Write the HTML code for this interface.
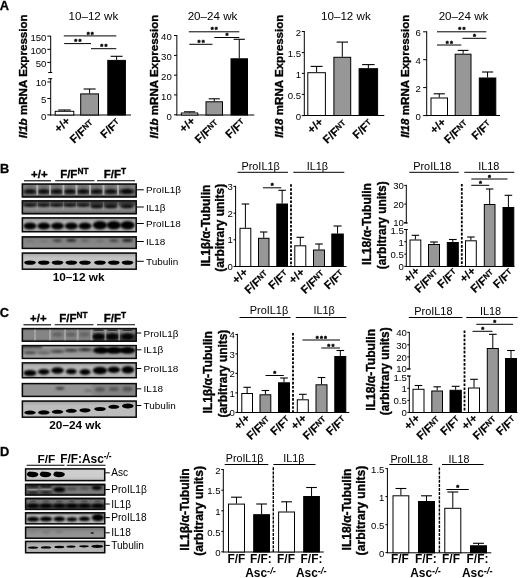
<!DOCTYPE html>
<html><head><meta charset="utf-8"><title>Figure</title>
<style>html,body{margin:0;padding:0;background:#fff}svg{display:block}text{font-family:"Liberation Sans", sans-serif;fill:#000}</style>
</head><body>
<svg width="520" height="578" viewBox="0 0 520 578">
<rect width="520" height="578" fill="#fff"/>
<text x="-0.2" y="9.9" font-size="12.8" font-weight="bold" text-anchor="start" stroke="#000" stroke-width="0.3">A</text>
<text x="93.4" y="20.2" font-size="11.6" font-weight="normal" text-anchor="middle">10–12 wk</text>
<text x="27.0" y="76.3" font-size="11.6" font-weight="bold" text-anchor="middle" transform="rotate(-90 27.0 76.3)" stroke="#000" stroke-width="0.35"><tspan font-style="italic">Il1b</tspan> mRNA Expression</text>
<line x1="50.7" y1="35.8" x2="50.7" y2="72.5" stroke="#000" stroke-width="1"/>
<line x1="50.7" y1="78.7" x2="50.7" y2="115.5" stroke="#000" stroke-width="1"/>
<line x1="48.2" y1="72.5" x2="52.2" y2="72.5" stroke="#000" stroke-width="1"/>
<line x1="48.2" y1="78.7" x2="52.2" y2="78.7" stroke="#000" stroke-width="1"/>
<line x1="47.300000000000004" y1="36.1" x2="50.7" y2="36.1" stroke="#000" stroke-width="1"/>
<text x="46.4" y="40.84" font-size="9.6" font-weight="normal" text-anchor="end">150</text>
<line x1="47.300000000000004" y1="49.3" x2="50.7" y2="49.3" stroke="#000" stroke-width="1"/>
<text x="46.4" y="54.04" font-size="9.6" font-weight="normal" text-anchor="end">100</text>
<line x1="47.300000000000004" y1="62.4" x2="50.7" y2="62.4" stroke="#000" stroke-width="1"/>
<text x="46.4" y="67.14" font-size="9.6" font-weight="normal" text-anchor="end">50</text>
<line x1="47.300000000000004" y1="82" x2="50.7" y2="82" stroke="#000" stroke-width="1"/>
<text x="46.4" y="86.04" font-size="9.6" font-weight="normal" text-anchor="end">10</text>
<line x1="47.300000000000004" y1="98.5" x2="50.7" y2="98.5" stroke="#000" stroke-width="1"/>
<text x="46.4" y="102.94" font-size="9.6" font-weight="normal" text-anchor="end">5</text>
<line x1="47.300000000000004" y1="114.9" x2="50.7" y2="114.9" stroke="#000" stroke-width="1"/>
<text x="46.4" y="119.64" font-size="9.6" font-weight="normal" text-anchor="end">0</text>
<line x1="50.2" y1="115" x2="131" y2="115" stroke="#000" stroke-width="1"/>
<rect x="55.2" y="111.3" width="18.599999999999994" height="3.700000000000003" fill="#fff" stroke="#000" stroke-width="1"/>
<line x1="64.5" y1="110.8" x2="64.5" y2="110.0" stroke="#000" stroke-width="1"/>
<line x1="58.228" y1="110.0" x2="70.77199999999999" y2="110.0" stroke="#000" stroke-width="1.1"/>
<rect x="80.7" y="93.9" width="17.799999999999997" height="21.099999999999994" fill="#979797" stroke="#000" stroke-width="1"/>
<line x1="89.6" y1="93.4" x2="89.6" y2="89" stroke="#000" stroke-width="1"/>
<line x1="83.58399999999999" y1="89" x2="95.616" y2="89" stroke="#000" stroke-width="1.1"/>
<rect x="107.8" y="60.4" width="17.60000000000001" height="54.6" fill="#000" stroke="#000" stroke-width="1"/>
<line x1="116.6" y1="59.9" x2="116.6" y2="56.3" stroke="#000" stroke-width="1"/>
<line x1="110.648" y1="56.3" x2="122.55199999999999" y2="56.3" stroke="#000" stroke-width="1.1"/>
<line x1="63.8" y1="35.9" x2="116.3" y2="35.9" stroke="#000" stroke-width="1"/>
<text x="90.85" y="36.5" font-size="7.6" font-weight="bold" text-anchor="middle" letter-spacing="1.2" stroke="#000" stroke-width="0.45">**</text>
<line x1="64.2" y1="43.6" x2="91" y2="43.6" stroke="#000" stroke-width="1"/>
<text x="78.39999999999999" y="44.2" font-size="7.6" font-weight="bold" text-anchor="middle" letter-spacing="1.2" stroke="#000" stroke-width="0.45">**</text>
<line x1="91" y1="48.7" x2="116.3" y2="48.7" stroke="#000" stroke-width="1"/>
<text x="104.45" y="49.300000000000004" font-size="7.6" font-weight="bold" text-anchor="middle" letter-spacing="1.2" stroke="#000" stroke-width="0.45">**</text>
<text x="71.0" y="121.9" font-size="11.5" font-weight="bold" text-anchor="end" transform="rotate(-43 71.0 121.9)" stroke="#000" stroke-width="0.2">+/+</text>
<text x="94.8" y="124.9" font-size="11.5" font-weight="bold" text-anchor="end" transform="rotate(-43 94.8 124.9)" stroke="#000" stroke-width="0.2">F/F<tspan dy="-2.5" font-size="8">NT</tspan></text>
<text x="121.0" y="123.8" font-size="11.5" font-weight="bold" text-anchor="end" transform="rotate(-43 121.0 123.8)" stroke="#000" stroke-width="0.2">F/F<tspan dy="-2.5" font-size="8">T</tspan></text>
<text x="212.5" y="20.0" font-size="11.6" font-weight="normal" text-anchor="middle">20–24 wk</text>
<text x="158.3" y="76.5" font-size="11.6" font-weight="bold" text-anchor="middle" transform="rotate(-90 158.3 76.5)" stroke="#000" stroke-width="0.35"><tspan font-style="italic">Il1b</tspan> mRNA Expression</text>
<line x1="176.85" y1="35.0" x2="176.85" y2="115.5" stroke="#000" stroke-width="1"/>
<line x1="173.95" y1="35.5" x2="176.85" y2="35.5" stroke="#000" stroke-width="1"/>
<text x="171.75" y="40.44" font-size="9.6" font-weight="normal" text-anchor="end">40</text>
<line x1="173.95" y1="55.4" x2="176.85" y2="55.4" stroke="#000" stroke-width="1"/>
<text x="171.75" y="60.34" font-size="9.6" font-weight="normal" text-anchor="end">30</text>
<line x1="173.95" y1="75.2" x2="176.85" y2="75.2" stroke="#000" stroke-width="1"/>
<text x="171.75" y="80.14" font-size="9.6" font-weight="normal" text-anchor="end">20</text>
<line x1="173.95" y1="94.9" x2="176.85" y2="94.9" stroke="#000" stroke-width="1"/>
<text x="171.75" y="99.84" font-size="9.6" font-weight="normal" text-anchor="end">10</text>
<line x1="173.95" y1="114.8" x2="176.85" y2="114.8" stroke="#000" stroke-width="1"/>
<text x="171.75" y="119.74" font-size="9.6" font-weight="normal" text-anchor="end">0</text>
<line x1="176.5" y1="115" x2="254.3" y2="115" stroke="#000" stroke-width="1"/>
<rect x="181.3" y="113.0" width="16.5" height="2.0" fill="#fff" stroke="#000" stroke-width="1"/>
<line x1="189.55" y1="112.5" x2="189.55" y2="111.8" stroke="#000" stroke-width="1"/>
<line x1="183.95000000000002" y1="111.8" x2="195.15" y2="111.8" stroke="#000" stroke-width="1.1"/>
<rect x="206.0" y="101.8" width="16.5" height="13.200000000000003" fill="#979797" stroke="#000" stroke-width="1"/>
<line x1="214.25" y1="101.3" x2="214.25" y2="98.8" stroke="#000" stroke-width="1"/>
<line x1="208.65" y1="98.8" x2="219.85" y2="98.8" stroke="#000" stroke-width="1.1"/>
<rect x="231.0" y="58.8" width="16.5" height="56.2" fill="#000" stroke="#000" stroke-width="1"/>
<line x1="239.25" y1="58.3" x2="239.25" y2="39.3" stroke="#000" stroke-width="1"/>
<line x1="233.65" y1="39.3" x2="244.85" y2="39.3" stroke="#000" stroke-width="1.1"/>
<line x1="188.8" y1="31.8" x2="239.3" y2="31.8" stroke="#000" stroke-width="1"/>
<text x="214.85000000000002" y="32.4" font-size="7.6" font-weight="bold" text-anchor="middle" letter-spacing="1.2" stroke="#000" stroke-width="0.45">**</text>
<line x1="189.3" y1="44.3" x2="212.5" y2="44.3" stroke="#000" stroke-width="1"/>
<text x="201.70000000000002" y="44.9" font-size="7.6" font-weight="bold" text-anchor="middle" letter-spacing="1.2" stroke="#000" stroke-width="0.45">**</text>
<line x1="214.3" y1="37.5" x2="239.3" y2="37.5" stroke="#000" stroke-width="1"/>
<text x="227.60000000000002" y="38.1" font-size="7.6" font-weight="bold" text-anchor="middle" letter-spacing="1.2" stroke="#000" stroke-width="0.45">*</text>
<text x="196.0" y="121.9" font-size="11.5" font-weight="bold" text-anchor="end" transform="rotate(-43 196.0 121.9)" stroke="#000" stroke-width="0.2">+/+</text>
<text x="219.8" y="124.9" font-size="11.5" font-weight="bold" text-anchor="end" transform="rotate(-43 219.8 124.9)" stroke="#000" stroke-width="0.2">F/F<tspan dy="-2.5" font-size="8">NT</tspan></text>
<text x="246.0" y="123.8" font-size="11.5" font-weight="bold" text-anchor="end" transform="rotate(-43 246.0 123.8)" stroke="#000" stroke-width="0.2">F/F<tspan dy="-2.5" font-size="8">T</tspan></text>
<text x="345.9" y="19.8" font-size="11.6" font-weight="normal" text-anchor="middle">10–12 wk</text>
<text x="283.3" y="76.2" font-size="11.6" font-weight="bold" text-anchor="middle" transform="rotate(-90 283.3 76.2)" stroke="#000" stroke-width="0.35"><tspan font-style="italic">Il18</tspan> mRNA Expression</text>
<line x1="304.3" y1="31.0" x2="304.3" y2="116.1" stroke="#000" stroke-width="1"/>
<line x1="301.8" y1="31.5" x2="304.3" y2="31.5" stroke="#000" stroke-width="1"/>
<text x="301.0" y="35.74" font-size="9.6" font-weight="normal" text-anchor="end">2</text>
<line x1="301.8" y1="52.6" x2="304.3" y2="52.6" stroke="#000" stroke-width="1"/>
<text x="301.0" y="56.84" font-size="9.6" font-weight="normal" text-anchor="end">1.5</text>
<line x1="301.8" y1="73.4" x2="304.3" y2="73.4" stroke="#000" stroke-width="1"/>
<text x="301.0" y="77.64" font-size="9.6" font-weight="normal" text-anchor="end">1</text>
<line x1="301.8" y1="94.4" x2="304.3" y2="94.4" stroke="#000" stroke-width="1"/>
<text x="301.0" y="98.64" font-size="9.6" font-weight="normal" text-anchor="end">0.5</text>
<line x1="301.8" y1="115.6" x2="304.3" y2="115.6" stroke="#000" stroke-width="1"/>
<text x="301.0" y="119.84" font-size="9.6" font-weight="normal" text-anchor="end">0</text>
<line x1="304.0" y1="115.5" x2="384.3" y2="115.5" stroke="#000" stroke-width="1"/>
<rect x="307.8" y="72.7" width="17.599999999999966" height="42.8" fill="#fff" stroke="#000" stroke-width="1"/>
<line x1="316.6" y1="72.2" x2="316.6" y2="66.4" stroke="#000" stroke-width="1"/>
<line x1="310.648" y1="66.4" x2="322.552" y2="66.4" stroke="#000" stroke-width="1.1"/>
<rect x="333.9" y="57.3" width="16.80000000000001" height="58.2" fill="#979797" stroke="#000" stroke-width="1"/>
<line x1="342.29999999999995" y1="56.8" x2="342.29999999999995" y2="42.1" stroke="#000" stroke-width="1"/>
<line x1="336.6039999999999" y1="42.1" x2="347.996" y2="42.1" stroke="#000" stroke-width="1.1"/>
<rect x="359.1" y="68.7" width="18.5" height="46.8" fill="#000" stroke="#000" stroke-width="1"/>
<line x1="368.35" y1="68.2" x2="368.35" y2="64.6" stroke="#000" stroke-width="1"/>
<line x1="362.11" y1="64.6" x2="374.59000000000003" y2="64.6" stroke="#000" stroke-width="1.1"/>
<text x="324.0" y="122.8" font-size="11.5" font-weight="bold" text-anchor="end" transform="rotate(-43 324.0 122.8)" stroke="#000" stroke-width="0.2">+/+</text>
<text x="347.8" y="125.3" font-size="11.5" font-weight="bold" text-anchor="end" transform="rotate(-43 347.8 125.3)" stroke="#000" stroke-width="0.2">F/F<tspan dy="-2.5" font-size="8">NT</tspan></text>
<text x="373.2" y="124.5" font-size="11.5" font-weight="bold" text-anchor="end" transform="rotate(-43 373.2 124.5)" stroke="#000" stroke-width="0.2">F/F<tspan dy="-2.5" font-size="8">T</tspan></text>
<text x="463.5" y="19.8" font-size="11.6" font-weight="normal" text-anchor="middle">20–24 wk</text>
<text x="409.5" y="76.2" font-size="11.6" font-weight="bold" text-anchor="middle" transform="rotate(-90 409.5 76.2)" stroke="#000" stroke-width="0.35"><tspan font-style="italic">Il18</tspan> mRNA Expression</text>
<line x1="426.7" y1="31.3" x2="426.7" y2="116.1" stroke="#000" stroke-width="1"/>
<line x1="423.09999999999997" y1="31.8" x2="426.7" y2="31.8" stroke="#000" stroke-width="1"/>
<text x="420.9" y="36.14" font-size="9.6" font-weight="normal" text-anchor="end">6</text>
<line x1="423.09999999999997" y1="59.7" x2="426.7" y2="59.7" stroke="#000" stroke-width="1"/>
<text x="420.9" y="64.04" font-size="9.6" font-weight="normal" text-anchor="end">4</text>
<line x1="423.09999999999997" y1="87.6" x2="426.7" y2="87.6" stroke="#000" stroke-width="1"/>
<text x="420.9" y="91.94" font-size="9.6" font-weight="normal" text-anchor="end">2</text>
<line x1="423.09999999999997" y1="115.6" x2="426.7" y2="115.6" stroke="#000" stroke-width="1"/>
<text x="420.9" y="119.94" font-size="9.6" font-weight="normal" text-anchor="end">0</text>
<line x1="426.3" y1="115.5" x2="500" y2="115.5" stroke="#000" stroke-width="1"/>
<rect x="431.0" y="98.0" width="16.5" height="17.5" fill="#fff" stroke="#000" stroke-width="1"/>
<line x1="439.25" y1="97.5" x2="439.25" y2="93.8" stroke="#000" stroke-width="1"/>
<line x1="433.65" y1="93.8" x2="444.85" y2="93.8" stroke="#000" stroke-width="1.1"/>
<rect x="455.2" y="54.2" width="15.800000000000011" height="61.3" fill="#979797" stroke="#000" stroke-width="1"/>
<line x1="463.1" y1="53.7" x2="463.1" y2="50.4" stroke="#000" stroke-width="1"/>
<line x1="457.72400000000005" y1="50.4" x2="468.476" y2="50.4" stroke="#000" stroke-width="1.1"/>
<rect x="479.3" y="78.0" width="16.5" height="37.5" fill="#000" stroke="#000" stroke-width="1"/>
<line x1="487.55" y1="77.5" x2="487.55" y2="72" stroke="#000" stroke-width="1"/>
<line x1="481.95" y1="72" x2="493.15000000000003" y2="72" stroke="#000" stroke-width="1.1"/>
<line x1="437" y1="31.8" x2="486.3" y2="31.8" stroke="#000" stroke-width="1"/>
<text x="462.45" y="32.4" font-size="7.6" font-weight="bold" text-anchor="middle" letter-spacing="1.2" stroke="#000" stroke-width="0.45">**</text>
<line x1="437" y1="45" x2="461.3" y2="45" stroke="#000" stroke-width="1"/>
<text x="449.95" y="45.6" font-size="7.6" font-weight="bold" text-anchor="middle" letter-spacing="1.2" stroke="#000" stroke-width="0.45">**</text>
<line x1="462.5" y1="38.3" x2="486.3" y2="38.3" stroke="#000" stroke-width="1"/>
<text x="475.2" y="38.9" font-size="7.6" font-weight="bold" text-anchor="middle" letter-spacing="1.2" stroke="#000" stroke-width="0.45">*</text>
<text x="446.7" y="123.1" font-size="11.5" font-weight="bold" text-anchor="end" transform="rotate(-43 446.7 123.1)" stroke="#000" stroke-width="0.2">+/+</text>
<text x="469.0" y="125.3" font-size="11.5" font-weight="bold" text-anchor="end" transform="rotate(-43 469.0 125.3)" stroke="#000" stroke-width="0.2">F/F<tspan dy="-2.5" font-size="8">NT</tspan></text>
<text x="492.1" y="125.3" font-size="11.5" font-weight="bold" text-anchor="end" transform="rotate(-43 492.1 125.3)" stroke="#000" stroke-width="0.2">F/F<tspan dy="-2.5" font-size="8">T</tspan></text>
<defs><filter id="b1" x="-50%" y="-100%" width="200%" height="300%"><feGaussianBlur stdDeviation="1.1"/></filter><filter id="b2" x="-50%" y="-100%" width="200%" height="300%"><feGaussianBlur stdDeviation="0.7"/></filter><filter id="b3" x="-50%" y="-100%" width="200%" height="300%"><feGaussianBlur stdDeviation="1.8"/></filter></defs>
<text x="-0.1" y="173.3" font-size="12.8" font-weight="bold" text-anchor="start" stroke="#000" stroke-width="0.3">B</text>
<text x="39.3" y="178.2" font-size="11.5" font-weight="bold" text-anchor="middle" stroke="#000" stroke-width="0.3">+/+</text>
<text x="74.3" y="178.2" font-size="11.5" font-weight="bold" text-anchor="middle" stroke="#000" stroke-width="0.3">F/F<tspan dy="-3.9" font-size="8.3">NT</tspan></text>
<text x="115" y="178.2" font-size="11.5" font-weight="bold" text-anchor="middle" stroke="#000" stroke-width="0.3">F/F<tspan dy="-3.9" font-size="8.3">T</tspan></text>
<line x1="24.0" y1="180.8" x2="51" y2="180.8" stroke="#000" stroke-width="1.1" stroke="#333"/>
<line x1="55.2" y1="180.8" x2="94.4" y2="180.8" stroke="#000" stroke-width="1.1"/>
<line x1="97" y1="180.8" x2="135" y2="180.8" stroke="#000" stroke-width="1.1"/>
<clipPath id="c1"><rect x="21.8" y="183.5" width="115.00000000000001" height="14.0"/></clipPath>
<rect x="21.8" y="183.5" width="115.00000000000001" height="14.0" fill="#808080"/>
<g clip-path="url(#c1)">
<rect x="21.8" y="189.5" width="115.00000000000001" height="5.0" fill="#181818" opacity="0.42" filter="url(#b1)"/>
<rect x="21.8" y="195.5" width="115.00000000000001" height="2.0" fill="#222" opacity="0.5" filter="url(#b2)"/>
<ellipse cx="30" cy="191.4" rx="5.8" ry="2.1" fill="#050505" opacity="0.88" filter="url(#b1)"/>
<ellipse cx="43.7" cy="191.4" rx="5.8" ry="2.1" fill="#050505" opacity="0.88" filter="url(#b1)"/>
<ellipse cx="56.7" cy="191.4" rx="5.8" ry="2.1" fill="#050505" opacity="0.88" filter="url(#b1)"/>
<ellipse cx="70" cy="191.4" rx="5.8" ry="2.1" fill="#050505" opacity="0.88" filter="url(#b1)"/>
<ellipse cx="83.2" cy="191.4" rx="5.8" ry="2.1" fill="#050505" opacity="0.88" filter="url(#b1)"/>
<ellipse cx="96.8" cy="191.4" rx="5.8" ry="2.1" fill="#050505" opacity="0.88" filter="url(#b1)"/>
<ellipse cx="110.8" cy="191.4" rx="5.8" ry="2.1" fill="#050505" opacity="0.88" filter="url(#b1)"/>
<ellipse cx="127" cy="191.4" rx="5.8" ry="2.1" fill="#050505" opacity="0.88" filter="url(#b1)"/>
<ellipse cx="127" cy="191" rx="7.5" ry="1.8" fill="#050505" opacity="0.5" filter="url(#b1)"/>
<ellipse cx="30" cy="186.5" rx="4.5" ry="1.2" fill="#333" opacity="0.3" filter="url(#b1)"/>
<ellipse cx="43.7" cy="186.5" rx="4.5" ry="1.2" fill="#333" opacity="0.3" filter="url(#b1)"/>
<ellipse cx="56.7" cy="186.5" rx="4.5" ry="1.2" fill="#333" opacity="0.3" filter="url(#b1)"/>
<ellipse cx="70" cy="186.5" rx="4.5" ry="1.2" fill="#333" opacity="0.3" filter="url(#b1)"/>
<ellipse cx="83.2" cy="186.5" rx="4.5" ry="1.2" fill="#333" opacity="0.3" filter="url(#b1)"/>
<ellipse cx="96.8" cy="186.5" rx="4.5" ry="1.2" fill="#333" opacity="0.3" filter="url(#b1)"/>
<ellipse cx="110.8" cy="186.5" rx="4.5" ry="1.2" fill="#333" opacity="0.3" filter="url(#b1)"/>
<ellipse cx="127" cy="186.5" rx="4.5" ry="1.2" fill="#333" opacity="0.3" filter="url(#b1)"/>
<rect x="36.349999999999994" y="183.5" width="1.9" height="11.479999999999999" fill="#d8d8d8" opacity="0.6" filter="url(#b2)"/>
<rect x="49.05" y="183.5" width="1.9" height="11.479999999999999" fill="#d8d8d8" opacity="0.6" filter="url(#b2)"/>
<rect x="62.449999999999996" y="183.5" width="1.9" height="11.479999999999999" fill="#d8d8d8" opacity="0.6" filter="url(#b2)"/>
<rect x="75.55" y="183.5" width="1.9" height="11.479999999999999" fill="#d8d8d8" opacity="0.6" filter="url(#b2)"/>
<rect x="89.05" y="183.5" width="1.9" height="11.479999999999999" fill="#d8d8d8" opacity="0.6" filter="url(#b2)"/>
<rect x="102.55" y="183.5" width="1.9" height="11.479999999999999" fill="#d8d8d8" opacity="0.6" filter="url(#b2)"/>
<rect x="117.05" y="183.5" width="1.9" height="11.479999999999999" fill="#d8d8d8" opacity="0.6" filter="url(#b2)"/>
</g>
<rect x="22.400000000000002" y="184.1" width="113.80000000000001" height="12.8" fill="none" stroke="#0a0a0a" stroke-width="1.5"/>
<clipPath id="c2"><rect x="21.8" y="200.3" width="115.00000000000001" height="14.0"/></clipPath>
<rect x="21.8" y="200.3" width="115.00000000000001" height="14.0" fill="#8c8c8c"/>
<g clip-path="url(#c2)">
<rect x="21.8" y="200.3" width="115.00000000000001" height="5.199999999999989" fill="#2a2a2a" opacity="0.7" filter="url(#b1)"/>
<rect x="21.8" y="211.8" width="115.00000000000001" height="2.5" fill="#333" opacity="0.55" filter="url(#b1)"/>
<ellipse cx="30" cy="205.3" rx="6.8" ry="1.5" fill="#050505" opacity="0.92" filter="url(#b1)"/>
<ellipse cx="43.7" cy="205.3" rx="6.8" ry="1.5" fill="#050505" opacity="0.92" filter="url(#b1)"/>
<ellipse cx="56.7" cy="205.3" rx="6.8" ry="1.5" fill="#050505" opacity="0.92" filter="url(#b1)"/>
<ellipse cx="70" cy="205.3" rx="6.8" ry="1.5" fill="#050505" opacity="0.92" filter="url(#b1)"/>
<ellipse cx="83.2" cy="205.3" rx="6.8" ry="1.5" fill="#050505" opacity="0.92" filter="url(#b1)"/>
<ellipse cx="96.8" cy="206.3" rx="6.8" ry="1.9" fill="#050505" opacity="0.92" filter="url(#b1)"/>
<ellipse cx="110.8" cy="206.3" rx="6.8" ry="1.9" fill="#050505" opacity="0.92" filter="url(#b1)"/>
<ellipse cx="127" cy="206.3" rx="6.8" ry="1.9" fill="#050505" opacity="0.92" filter="url(#b1)"/>
<ellipse cx="96.8" cy="203.6" rx="6.5" ry="1.2" fill="#111" opacity="0.55" filter="url(#b1)"/>
<ellipse cx="110.8" cy="203.6" rx="6.5" ry="1.2" fill="#111" opacity="0.55" filter="url(#b1)"/>
<ellipse cx="127" cy="203.6" rx="6.5" ry="1.2" fill="#111" opacity="0.55" filter="url(#b1)"/>
<rect x="36.65" y="200.3" width="1.3" height="9.799999999999999" fill="#bbb" opacity="0.3" filter="url(#b2)"/>
<rect x="49.35" y="200.3" width="1.3" height="9.799999999999999" fill="#bbb" opacity="0.3" filter="url(#b2)"/>
<rect x="62.75" y="200.3" width="1.3" height="9.799999999999999" fill="#bbb" opacity="0.3" filter="url(#b2)"/>
<rect x="75.85" y="200.3" width="1.3" height="9.799999999999999" fill="#bbb" opacity="0.3" filter="url(#b2)"/>
<rect x="89.35" y="200.3" width="1.3" height="9.799999999999999" fill="#bbb" opacity="0.3" filter="url(#b2)"/>
<rect x="102.85" y="200.3" width="1.3" height="9.799999999999999" fill="#bbb" opacity="0.3" filter="url(#b2)"/>
<rect x="117.35" y="200.3" width="1.3" height="9.799999999999999" fill="#bbb" opacity="0.3" filter="url(#b2)"/>
</g>
<rect x="22.400000000000002" y="200.9" width="113.80000000000001" height="12.8" fill="none" stroke="#0a0a0a" stroke-width="1.5"/>
<clipPath id="c3"><rect x="21.8" y="217.3" width="115.00000000000001" height="15.0"/></clipPath>
<rect x="21.8" y="217.3" width="115.00000000000001" height="15.0" fill="#b2b2b2"/>
<g clip-path="url(#c3)">
<rect x="21.8" y="217" width="115.00000000000001" height="3" fill="#777" opacity="0.5" filter="url(#b1)"/>
<ellipse cx="30" cy="226.0" rx="6.6" ry="3.5" fill="#000" opacity="1" filter="url(#b1)"/>
<ellipse cx="43.8" cy="226.0" rx="6.6" ry="3.5" fill="#000" opacity="1" filter="url(#b1)"/>
<ellipse cx="57.5" cy="226.0" rx="6.6" ry="3.5" fill="#000" opacity="1" filter="url(#b1)"/>
<ellipse cx="71.3" cy="226.0" rx="6.6" ry="3.5" fill="#000" opacity="1" filter="url(#b1)"/>
<ellipse cx="85" cy="226.0" rx="6.6" ry="3.5" fill="#000" opacity="1" filter="url(#b1)"/>
<ellipse cx="100" cy="225.3" rx="7.199999999999999" ry="4.2" fill="#000" opacity="1" filter="url(#b1)"/>
<ellipse cx="113.8" cy="225.3" rx="7.199999999999999" ry="4.2" fill="#000" opacity="1" filter="url(#b1)"/>
<ellipse cx="127.5" cy="225.3" rx="7.199999999999999" ry="4.2" fill="#000" opacity="1" filter="url(#b1)"/>
</g>
<rect x="22.400000000000002" y="217.9" width="113.80000000000001" height="13.8" fill="none" stroke="#0a0a0a" stroke-width="1.5"/>
<clipPath id="c4"><rect x="21.8" y="236.3" width="115.00000000000001" height="12.699999999999989"/></clipPath>
<rect x="21.8" y="236.3" width="115.00000000000001" height="12.699999999999989" fill="#858585"/>
<g clip-path="url(#c4)">
<rect x="21.8" y="236" width="115.00000000000001" height="2.3000000000000114" fill="#444" opacity="0.5" filter="url(#b2)"/>
<rect x="21.8" y="244" width="115.00000000000001" height="5" fill="#999" opacity="0.25" filter="url(#b3)"/>
<ellipse cx="57.5" cy="240.6" rx="4.5" ry="1.3" fill="#222" opacity="0.7" filter="url(#b1)"/>
<ellipse cx="71.3" cy="240.3" rx="5" ry="1.4" fill="#111" opacity="0.85" filter="url(#b1)"/>
<ellipse cx="85" cy="240.6" rx="4" ry="1.2" fill="#333" opacity="0.5" filter="url(#b1)"/>
<ellipse cx="100" cy="241" rx="4" ry="1.2" fill="#444" opacity="0.35" filter="url(#b1)"/>
<ellipse cx="113.8" cy="240.5" rx="4.5" ry="1.3" fill="#222" opacity="0.7" filter="url(#b1)"/>
<ellipse cx="127.5" cy="240.3" rx="5.2" ry="1.5" fill="#111" opacity="0.9" filter="url(#b1)"/>
<ellipse cx="30" cy="241" rx="4" ry="1.2" fill="#555" opacity="0.3" filter="url(#b1)"/>
<ellipse cx="43.8" cy="241" rx="4" ry="1.2" fill="#555" opacity="0.3" filter="url(#b1)"/>
</g>
<rect x="22.400000000000002" y="236.9" width="113.80000000000001" height="11.49999999999999" fill="none" stroke="#0a0a0a" stroke-width="1.5"/>
<clipPath id="c5"><rect x="21.8" y="252.5" width="115.00000000000001" height="17.30000000000001"/></clipPath>
<rect x="21.8" y="252.5" width="115.00000000000001" height="17.30000000000001" fill="#c2c2c2"/>
<g clip-path="url(#c5)">
<rect x="21.8" y="252" width="115.00000000000001" height="3.5" fill="#888" opacity="0.45" filter="url(#b1)"/>
<ellipse cx="30" cy="262.6" rx="5.9" ry="2.2" fill="#000" opacity="1" filter="url(#b2)"/>
<ellipse cx="43.8" cy="262.6" rx="5.9" ry="2.2" fill="#000" opacity="1" filter="url(#b2)"/>
<ellipse cx="57.5" cy="262.6" rx="5.9" ry="2.2" fill="#000" opacity="1" filter="url(#b2)"/>
<ellipse cx="71.3" cy="262.6" rx="5.9" ry="2.2" fill="#000" opacity="1" filter="url(#b2)"/>
<ellipse cx="85" cy="262.6" rx="5.9" ry="2.2" fill="#000" opacity="1" filter="url(#b2)"/>
<ellipse cx="100" cy="262.6" rx="5.9" ry="2.2" fill="#000" opacity="1" filter="url(#b2)"/>
<ellipse cx="113.8" cy="262.6" rx="5.9" ry="2.2" fill="#000" opacity="1" filter="url(#b2)"/>
<ellipse cx="127.5" cy="262.6" rx="5.9" ry="2.2" fill="#000" opacity="1" filter="url(#b2)"/>
</g>
<rect x="22.400000000000002" y="253.1" width="113.80000000000001" height="16.100000000000012" fill="none" stroke="#0a0a0a" stroke-width="1.5"/>
<line x1="136.8" y1="189.8" x2="143.8" y2="189.8" stroke="#000" stroke-width="1"/>
<text x="146" y="193.3" font-size="9.95" font-weight="normal" text-anchor="start">ProIL1β</text>
<line x1="136.8" y1="207" x2="143.8" y2="207" stroke="#000" stroke-width="1"/>
<text x="146" y="210.5" font-size="9.95" font-weight="normal" text-anchor="start">IL1β</text>
<line x1="136.8" y1="223.5" x2="143.8" y2="223.5" stroke="#000" stroke-width="1"/>
<text x="146" y="227.0" font-size="9.95" font-weight="normal" text-anchor="start">ProIL18</text>
<line x1="136.8" y1="241.5" x2="143.8" y2="241.5" stroke="#000" stroke-width="1"/>
<text x="146" y="245.0" font-size="9.95" font-weight="normal" text-anchor="start">IL18</text>
<line x1="136.8" y1="261.3" x2="143.8" y2="261.3" stroke="#000" stroke-width="1"/>
<text x="146" y="264.8" font-size="9.95" font-weight="normal" text-anchor="start">Tubulin</text>
<text x="78.6" y="281.4" font-size="11.8" font-weight="bold" text-anchor="middle">10–12 wk</text>
<text x="-0.3" y="317.0" font-size="12.8" font-weight="bold" text-anchor="start" stroke="#000" stroke-width="0.3">C</text>
<text x="38.4" y="321.8" font-size="11.5" font-weight="bold" text-anchor="middle" stroke="#000" stroke-width="0.3">+/+</text>
<text x="73.39999999999999" y="321.8" font-size="11.5" font-weight="bold" text-anchor="middle" stroke="#000" stroke-width="0.3">F/F<tspan dy="-3.9" font-size="8.3">NT</tspan></text>
<text x="115" y="321.8" font-size="11.5" font-weight="bold" text-anchor="middle" stroke="#000" stroke-width="0.3">F/F<tspan dy="-3.9" font-size="8.3">T</tspan></text>
<line x1="23.46" y1="324.8" x2="51" y2="324.8" stroke="#000" stroke-width="1.1" stroke="#333"/>
<line x1="54.660000000000004" y1="324.8" x2="93.5" y2="324.8" stroke="#000" stroke-width="1.1"/>
<line x1="97" y1="324.8" x2="135" y2="324.8" stroke="#000" stroke-width="1.1"/>
<clipPath id="c6"><rect x="21.8" y="328" width="115.00000000000001" height="13.800000000000011"/></clipPath>
<rect x="21.8" y="328" width="115.00000000000001" height="13.800000000000011" fill="#848484"/>
<g clip-path="url(#c6)">
<rect x="21.8" y="328" width="115.00000000000001" height="2.3000000000000114" fill="#444" opacity="0.45" filter="url(#b2)"/>
<rect x="93" y="333.5" width="43.80000000000001" height="8.5" fill="#111" opacity="0.6" filter="url(#b1)"/>
<rect x="21.8" y="339.5" width="70.2" height="2.5" fill="#555" opacity="0.4" filter="url(#b2)"/>
<ellipse cx="57.5" cy="334.5" rx="5.0" ry="2.2" fill="#333" opacity="0.4" filter="url(#b1)"/>
<ellipse cx="71" cy="334.5" rx="5.0" ry="2.2" fill="#333" opacity="0.4" filter="url(#b1)"/>
<ellipse cx="84.5" cy="334.5" rx="5.0" ry="2.2" fill="#333" opacity="0.4" filter="url(#b1)"/>
<ellipse cx="98.5" cy="336.6" rx="6.2" ry="3.0" fill="#020202" opacity="0.95" filter="url(#b1)"/>
<ellipse cx="112.3" cy="336.6" rx="6.2" ry="3.0" fill="#020202" opacity="0.95" filter="url(#b1)"/>
<ellipse cx="127.5" cy="336.6" rx="6.2" ry="3.0" fill="#020202" opacity="0.95" filter="url(#b1)"/>
<ellipse cx="98.5" cy="330.2" rx="5.0" ry="0.9" fill="#111" opacity="0.6" filter="url(#b2)"/>
<ellipse cx="112.3" cy="330.2" rx="5.0" ry="0.9" fill="#111" opacity="0.6" filter="url(#b2)"/>
<ellipse cx="127.5" cy="330.2" rx="5.0" ry="0.9" fill="#111" opacity="0.6" filter="url(#b2)"/>
<rect x="34.1" y="328" width="1.8" height="13.800000000000011" fill="#c4c4c4" opacity="0.55" filter="url(#b2)"/>
<rect x="49.1" y="328" width="1.8" height="13.800000000000011" fill="#c4c4c4" opacity="0.55" filter="url(#b2)"/>
<rect x="64.1" y="328" width="1.8" height="13.800000000000011" fill="#c4c4c4" opacity="0.55" filter="url(#b2)"/>
<rect x="76.8" y="328" width="1.8" height="13.800000000000011" fill="#c4c4c4" opacity="0.55" filter="url(#b2)"/>
<rect x="90.6" y="328" width="1.8" height="13.800000000000011" fill="#c4c4c4" opacity="0.55" filter="url(#b2)"/>
<rect x="104.5" y="328" width="1.8" height="13.800000000000011" fill="#c4c4c4" opacity="0.55" filter="url(#b2)"/>
<rect x="118.3" y="328" width="1.8" height="13.800000000000011" fill="#c4c4c4" opacity="0.55" filter="url(#b2)"/>
</g>
<rect x="22.400000000000002" y="328.6" width="113.80000000000001" height="12.600000000000012" fill="none" stroke="#0a0a0a" stroke-width="1.5"/>
<clipPath id="c7"><rect x="21.8" y="345" width="115.00000000000001" height="14"/></clipPath>
<rect x="21.8" y="345" width="115.00000000000001" height="14" fill="#a0a0a0"/>
<g clip-path="url(#c7)">
<rect x="21.8" y="345" width="20.2" height="3.3000000000000114" fill="#222" opacity="0.7" filter="url(#b1)"/>
<rect x="21.8" y="348" width="73.2" height="5" fill="#666" opacity="0.4" filter="url(#b3)"/>
<rect x="100" y="348.3" width="30" height="4.0" fill="#000" opacity="0.9" filter="url(#b1)"/>
<ellipse cx="30" cy="352.8" rx="6.5" ry="1.6" fill="#222" opacity="0.6" filter="url(#b1)"/>
<ellipse cx="43.8" cy="353" rx="6.5" ry="1.5" fill="#333" opacity="0.5" filter="url(#b1)"/>
<ellipse cx="57.5" cy="351.5" rx="6.5" ry="1.4" fill="#222" opacity="0.65" filter="url(#b1)"/>
<ellipse cx="71.3" cy="350.3" rx="6.5" ry="1.4" fill="#111" opacity="0.7" filter="url(#b1)"/>
<ellipse cx="85" cy="349.5" rx="6.5" ry="1.5" fill="#111" opacity="0.8" filter="url(#b1)"/>
<ellipse cx="100.5" cy="350.3" rx="7.4" ry="3.3" fill="#000" opacity="1" filter="url(#b1)"/>
<ellipse cx="114" cy="350.3" rx="7.4" ry="3.3" fill="#000" opacity="1" filter="url(#b1)"/>
<ellipse cx="128" cy="350.3" rx="7.4" ry="3.3" fill="#000" opacity="1" filter="url(#b1)"/>
</g>
<rect x="22.400000000000002" y="345.6" width="113.80000000000001" height="12.8" fill="none" stroke="#0a0a0a" stroke-width="1.5"/>
<clipPath id="c8"><rect x="21.8" y="362.3" width="115.00000000000001" height="16.0"/></clipPath>
<rect x="21.8" y="362.3" width="115.00000000000001" height="16.0" fill="#b6b6b6"/>
<g clip-path="url(#c8)">
<rect x="21.8" y="362" width="115.00000000000001" height="3" fill="#777" opacity="0.45" filter="url(#b1)"/>
<ellipse cx="30" cy="373" rx="6.5" ry="3.1" fill="#000" opacity="1" filter="url(#b1)"/>
<ellipse cx="43.8" cy="371.8" rx="5.9" ry="2.9" fill="#000" opacity="1" filter="url(#b1)"/>
<ellipse cx="57.5" cy="370.5" rx="6.3" ry="3.2" fill="#000" opacity="1" filter="url(#b1)"/>
<ellipse cx="71.3" cy="371.5" rx="5.5" ry="2.8" fill="#000" opacity="1" filter="url(#b1)"/>
<ellipse cx="85" cy="372" rx="5.7" ry="2.9" fill="#000" opacity="1" filter="url(#b1)"/>
<ellipse cx="100" cy="370.5" rx="7.2" ry="3.8" fill="#000" opacity="1" filter="url(#b1)"/>
<ellipse cx="113.8" cy="369.8" rx="6.4" ry="3.2" fill="#000" opacity="1" filter="url(#b1)"/>
<ellipse cx="127.8" cy="369.8" rx="6.4" ry="3.7" fill="#000" opacity="1" filter="url(#b1)"/>
</g>
<rect x="22.400000000000002" y="362.90000000000003" width="113.80000000000001" height="14.8" fill="none" stroke="#0a0a0a" stroke-width="1.5"/>
<clipPath id="c9"><rect x="21.8" y="383" width="115.00000000000001" height="14"/></clipPath>
<rect x="21.8" y="383" width="115.00000000000001" height="14" fill="#949494"/>
<g clip-path="url(#c9)">
<rect x="92" y="383" width="44.80000000000001" height="14" fill="#666" opacity="0.35" filter="url(#b3)"/>
<ellipse cx="60" cy="388.3" rx="4.5" ry="1.6" fill="#222" opacity="0.7" filter="url(#b1)"/>
<ellipse cx="88" cy="390.5" rx="3.5" ry="1.5" fill="#444" opacity="0.4" filter="url(#b1)"/>
<ellipse cx="100" cy="389.5" rx="5" ry="2.2" fill="#333" opacity="0.55" filter="url(#b1)"/>
<ellipse cx="113.8" cy="389" rx="5" ry="2.2" fill="#333" opacity="0.5" filter="url(#b1)"/>
<ellipse cx="127.5" cy="389" rx="5" ry="2.4" fill="#333" opacity="0.55" filter="url(#b1)"/>
</g>
<rect x="22.400000000000002" y="383.6" width="113.80000000000001" height="12.8" fill="none" stroke="#0a0a0a" stroke-width="1.5"/>
<clipPath id="c10"><rect x="21.8" y="400.5" width="115.00000000000001" height="17.30000000000001"/></clipPath>
<rect x="21.8" y="400.5" width="115.00000000000001" height="17.30000000000001" fill="#bcbcbc"/>
<g clip-path="url(#c10)">
<rect x="21.8" y="400" width="115.00000000000001" height="3.5" fill="#888" opacity="0.45" filter="url(#b1)"/>
<ellipse cx="30" cy="412.6" rx="5.8" ry="2.0" fill="#000" opacity="1" filter="url(#b2)"/>
<ellipse cx="43.8" cy="412.4" rx="5.8" ry="2.1" fill="#000" opacity="1" filter="url(#b2)"/>
<ellipse cx="57.5" cy="411.8" rx="5.8" ry="2.0" fill="#000" opacity="1" filter="url(#b2)"/>
<ellipse cx="71.3" cy="410.8" rx="5.6" ry="2.0" fill="#000" opacity="1" filter="url(#b2)"/>
<ellipse cx="85" cy="410.3" rx="5.6" ry="2.1" fill="#000" opacity="1" filter="url(#b2)"/>
<ellipse cx="100" cy="409" rx="5.8" ry="2.0" fill="#000" opacity="1" filter="url(#b2)"/>
<ellipse cx="113.8" cy="406.8" rx="5.6" ry="2.0" fill="#000" opacity="1" filter="url(#b2)"/>
<ellipse cx="127.8" cy="406" rx="5.8" ry="2.5" fill="#000" opacity="1" filter="url(#b2)"/>
</g>
<rect x="22.400000000000002" y="401.1" width="113.80000000000001" height="16.100000000000012" fill="none" stroke="#0a0a0a" stroke-width="1.5"/>
<line x1="136.8" y1="333" x2="141.3" y2="333" stroke="#000" stroke-width="1"/>
<text x="143.6" y="336.5" font-size="9.95" font-weight="normal" text-anchor="start">ProIL1β</text>
<line x1="136.8" y1="349.8" x2="141.3" y2="349.8" stroke="#000" stroke-width="1"/>
<text x="143.6" y="353.3" font-size="9.95" font-weight="normal" text-anchor="start">IL1β</text>
<line x1="136.8" y1="368.5" x2="141.3" y2="368.5" stroke="#000" stroke-width="1"/>
<text x="143.6" y="372.0" font-size="9.95" font-weight="normal" text-anchor="start">ProIL18</text>
<line x1="136.8" y1="388.8" x2="141.3" y2="388.8" stroke="#000" stroke-width="1"/>
<text x="143.6" y="392.3" font-size="9.95" font-weight="normal" text-anchor="start">IL18</text>
<line x1="136.8" y1="405.5" x2="141.3" y2="405.5" stroke="#000" stroke-width="1"/>
<text x="143.6" y="409.0" font-size="9.95" font-weight="normal" text-anchor="start">Tubulin</text>
<text x="75.2" y="429.3" font-size="11.8" font-weight="bold" text-anchor="middle">20–24 wk</text>
<text x="-0.1" y="455.6" font-size="12.8" font-weight="bold" text-anchor="start" stroke="#000" stroke-width="0.3">D</text>
<text x="46.4" y="462.5" font-size="11.8" font-weight="bold" text-anchor="middle">F/F</text>
<text x="60.2" y="462.5" font-size="11.9" font-weight="bold" text-anchor="start">F/F:Asc<tspan dy="-3.6" font-size="8.3" font-style="italic">-/-</tspan></text>
<line x1="26.7" y1="465.3" x2="64.6" y2="465.3" stroke="#000" stroke-width="1.1"/>
<line x1="66.7" y1="465.3" x2="105.5" y2="465.3" stroke="#000" stroke-width="1.1"/>
<clipPath id="c11"><rect x="25" y="468.3" width="80.3" height="12.899999999999977"/></clipPath>
<rect x="25" y="468.3" width="80.3" height="12.899999999999977" fill="#cecece"/>
<g clip-path="url(#c11)">
<rect x="25" y="478.5" width="80.3" height="2.6999999999999886" fill="#999" opacity="0.4" filter="url(#b1)"/>
<ellipse cx="32.6" cy="474.5" rx="5.7" ry="2.7" fill="#000" opacity="1" filter="url(#b2)"/>
<ellipse cx="45.5" cy="474.5" rx="5.7" ry="2.7" fill="#000" opacity="1" filter="url(#b2)"/>
<ellipse cx="59.1" cy="474.5" rx="5.7" ry="2.7" fill="#000" opacity="1" filter="url(#b2)"/>
<ellipse cx="30.0" cy="473.6" rx="2.6" ry="2.2" fill="#000" opacity="1" filter="url(#b2)"/>
<ellipse cx="42.9" cy="473.6" rx="2.6" ry="2.2" fill="#000" opacity="1" filter="url(#b2)"/>
<ellipse cx="56.5" cy="473.6" rx="2.6" ry="2.2" fill="#000" opacity="1" filter="url(#b2)"/>
</g>
<rect x="25.6" y="468.90000000000003" width="79.1" height="11.699999999999978" fill="none" stroke="#0a0a0a" stroke-width="1.5"/>
<clipPath id="c12"><rect x="25" y="483.8" width="80.3" height="11.800000000000011"/></clipPath>
<rect x="25" y="483.8" width="80.3" height="11.800000000000011" fill="#6e6e6e"/>
<g clip-path="url(#c12)">
<rect x="25" y="483.8" width="80.3" height="2.1999999999999886" fill="#222" opacity="0.55" filter="url(#b2)"/>
<rect x="66" y="489" width="39.3" height="6.600000000000023" fill="#999" opacity="0.3" filter="url(#b3)"/>
<rect x="25" y="493.6" width="80.3" height="2.0" fill="#222" opacity="0.5" filter="url(#b2)"/>
<ellipse cx="33" cy="486.6" rx="6.2" ry="1.5" fill="#080808" opacity="0.9" filter="url(#b1)"/>
<ellipse cx="46" cy="486.4" rx="6.2" ry="1.5" fill="#080808" opacity="0.9" filter="url(#b1)"/>
<ellipse cx="59.3" cy="489.6" rx="6.0" ry="2.6" fill="#050505" opacity="0.97" filter="url(#b1)"/>
<ellipse cx="33" cy="492.6" rx="6.2" ry="1.6" fill="#111" opacity="0.8" filter="url(#b1)"/>
<ellipse cx="46" cy="492.4" rx="6.2" ry="1.6" fill="#111" opacity="0.8" filter="url(#b1)"/>
<ellipse cx="33" cy="489.6" rx="6" ry="0.9" fill="#bbb" opacity="0.55" filter="url(#b2)"/>
<ellipse cx="46" cy="489.3" rx="6" ry="0.9" fill="#bbb" opacity="0.5" filter="url(#b2)"/>
<ellipse cx="71.9" cy="488.8" rx="5" ry="1.4" fill="#222" opacity="0.55" filter="url(#b1)"/>
<ellipse cx="84.4" cy="488.3" rx="4.5" ry="1.3" fill="#222" opacity="0.45" filter="url(#b1)"/>
<ellipse cx="96.8" cy="487.8" rx="5.4" ry="2.2" fill="#050505" opacity="0.95" filter="url(#b1)"/>
</g>
<rect x="25.6" y="484.40000000000003" width="79.1" height="10.600000000000012" fill="none" stroke="#0a0a0a" stroke-width="1.5"/>
<clipPath id="c13"><rect x="25" y="497.8" width="80.3" height="12.199999999999989"/></clipPath>
<rect x="25" y="497.8" width="80.3" height="12.199999999999989" fill="#747474"/>
<g clip-path="url(#c13)">
<rect x="25" y="497.8" width="80.3" height="2.0" fill="#1a1a1a" opacity="0.5" filter="url(#b2)"/>
<rect x="25" y="504.2" width="80.3" height="4.800000000000011" fill="#000" opacity="0.55" filter="url(#b1)"/>
<ellipse cx="33" cy="505.8" rx="6.3" ry="2.2" fill="#000" opacity="0.97" filter="url(#b1)"/>
<ellipse cx="46" cy="505.8" rx="6.3" ry="2.2" fill="#000" opacity="0.97" filter="url(#b1)"/>
<ellipse cx="59.3" cy="505.8" rx="6.3" ry="2.2" fill="#000" opacity="0.97" filter="url(#b1)"/>
<ellipse cx="71.9" cy="505.8" rx="6.3" ry="2.2" fill="#000" opacity="0.97" filter="url(#b1)"/>
<ellipse cx="84.4" cy="505.8" rx="6.3" ry="2.2" fill="#000" opacity="0.97" filter="url(#b1)"/>
<ellipse cx="97.9" cy="505.8" rx="6.3" ry="2.2" fill="#000" opacity="0.97" filter="url(#b1)"/>
<ellipse cx="33" cy="501.2" rx="3.5" ry="0.8" fill="#222" opacity="0.45" filter="url(#b2)"/>
<ellipse cx="46" cy="501.2" rx="3.5" ry="0.8" fill="#222" opacity="0.45" filter="url(#b2)"/>
<ellipse cx="59.3" cy="501.2" rx="3.5" ry="0.8" fill="#222" opacity="0.45" filter="url(#b2)"/>
<ellipse cx="71.9" cy="501.2" rx="3.5" ry="0.8" fill="#222" opacity="0.45" filter="url(#b2)"/>
<ellipse cx="84.4" cy="501.2" rx="3.5" ry="0.8" fill="#222" opacity="0.45" filter="url(#b2)"/>
<ellipse cx="97.9" cy="501.2" rx="3.5" ry="0.8" fill="#222" opacity="0.45" filter="url(#b2)"/>
</g>
<rect x="25.6" y="498.40000000000003" width="79.1" height="10.99999999999999" fill="none" stroke="#0a0a0a" stroke-width="1.5"/>
<clipPath id="c14"><rect x="25" y="512.2" width="80.3" height="12.199999999999932"/></clipPath>
<rect x="25" y="512.2" width="80.3" height="12.199999999999932" fill="#b2b2b2"/>
<g clip-path="url(#c14)">
<rect x="25" y="512" width="80.3" height="2.6000000000000227" fill="#444" opacity="0.55" filter="url(#b2)"/>
<ellipse cx="33" cy="519.2" rx="6.2" ry="2.4" fill="#000" opacity="1" filter="url(#b1)"/>
<ellipse cx="46" cy="519" rx="6.3" ry="2.6" fill="#000" opacity="1" filter="url(#b1)"/>
<ellipse cx="59.3" cy="519" rx="5.8" ry="2.4" fill="#000" opacity="1" filter="url(#b1)"/>
<ellipse cx="71.9" cy="519.3" rx="5.3" ry="2.1" fill="#000" opacity="1" filter="url(#b1)"/>
<ellipse cx="84.4" cy="518.8" rx="5.8" ry="2.3" fill="#000" opacity="1" filter="url(#b1)"/>
<ellipse cx="97.9" cy="517.6" rx="6.2" ry="3.6" fill="#000" opacity="1" filter="url(#b1)"/>
</g>
<rect x="25.6" y="512.8000000000001" width="79.1" height="10.999999999999932" fill="none" stroke="#0a0a0a" stroke-width="1.5"/>
<clipPath id="c15"><rect x="25" y="526.6" width="80.3" height="12.199999999999932"/></clipPath>
<rect x="25" y="526.6" width="80.3" height="12.199999999999932" fill="#8e8e8e"/>
<g clip-path="url(#c15)">
<rect x="25" y="526.5" width="80.3" height="3.5" fill="#555" opacity="0.4" filter="url(#b1)"/>
<rect x="25" y="534" width="80.3" height="4.7999999999999545" fill="#aaa" opacity="0.3" filter="url(#b3)"/>
<ellipse cx="46" cy="532.3" rx="3.5" ry="1.2" fill="#555" opacity="0.4" filter="url(#b1)"/>
<ellipse cx="59.3" cy="532" rx="3.5" ry="1.2" fill="#555" opacity="0.4" filter="url(#b1)"/>
<ellipse cx="33" cy="532" rx="3" ry="1.2" fill="#666" opacity="0.3" filter="url(#b1)"/>
<ellipse cx="92.3" cy="533" rx="1.6" ry="0.9" fill="#111" opacity="0.8" filter="url(#b2)"/>
</g>
<rect x="25.6" y="527.2" width="79.1" height="10.999999999999932" fill="none" stroke="#0a0a0a" stroke-width="1.5"/>
<clipPath id="c16"><rect x="25" y="540.8" width="80.3" height="12.5"/></clipPath>
<rect x="25" y="540.8" width="80.3" height="12.5" fill="#b4b4b4"/>
<g clip-path="url(#c16)">
<rect x="25" y="540.6" width="80.3" height="2.699999999999932" fill="#666" opacity="0.45" filter="url(#b1)"/>
<ellipse cx="33" cy="547.6" rx="5.2" ry="1.2" fill="#000" opacity="1" filter="url(#b2)"/>
<ellipse cx="46" cy="547.4" rx="5.2" ry="1.2" fill="#000" opacity="1" filter="url(#b2)"/>
<ellipse cx="59.3" cy="547" rx="5" ry="1.2" fill="#000" opacity="1" filter="url(#b2)"/>
<ellipse cx="71" cy="546.6" rx="4.6" ry="1.2" fill="#000" opacity="1" filter="url(#b2)"/>
<ellipse cx="84" cy="546.3" rx="4.8" ry="1.1" fill="#000" opacity="1" filter="url(#b2)"/>
<ellipse cx="97.2" cy="546.4" rx="6" ry="1.6" fill="#000" opacity="1" filter="url(#b2)"/>
</g>
<rect x="25.6" y="541.4" width="79.1" height="11.3" fill="none" stroke="#0a0a0a" stroke-width="1.5"/>
<line x1="105.3" y1="472.8" x2="109.8" y2="472.8" stroke="#000" stroke-width="1"/>
<text x="111.2" y="476.40000000000003" font-size="10.1" font-weight="normal" text-anchor="start">Asc</text>
<line x1="105.3" y1="489.5" x2="109.8" y2="489.5" stroke="#000" stroke-width="1"/>
<text x="111.2" y="493.1" font-size="10.1" font-weight="normal" text-anchor="start">ProIL1β</text>
<line x1="105.3" y1="504" x2="109.8" y2="504" stroke="#000" stroke-width="1"/>
<text x="111.2" y="507.6" font-size="10.1" font-weight="normal" text-anchor="start">IL1β</text>
<line x1="105.3" y1="517.6" x2="109.8" y2="517.6" stroke="#000" stroke-width="1"/>
<text x="111.2" y="521.2" font-size="10.1" font-weight="normal" text-anchor="start">ProIL18</text>
<line x1="105.3" y1="532.8" x2="109.8" y2="532.8" stroke="#000" stroke-width="1"/>
<text x="111.2" y="536.4" font-size="10.1" font-weight="normal" text-anchor="start">IL18</text>
<line x1="105.3" y1="545.4" x2="109.8" y2="545.4" stroke="#000" stroke-width="1"/>
<text x="111.2" y="549.0" font-size="10.1" font-weight="normal" text-anchor="start">Tubulin</text>
<text x="260.6" y="170" font-size="10.9" font-weight="normal" text-anchor="middle">ProIL1β</text>
<line x1="237.5" y1="172.3" x2="288" y2="172.3" stroke="#000" stroke-width="1"/>
<text x="317.4" y="170" font-size="10.9" font-weight="normal" text-anchor="middle">IL1β</text>
<line x1="293.3" y1="172.3" x2="344.3" y2="172.3" stroke="#000" stroke-width="1"/>
<text x="210" y="225.6" font-size="12.0" font-weight="bold" text-anchor="middle" transform="rotate(-90 210 225.6)" stroke="#000" stroke-width="0.35">IL1β/α-Tubulin</text>
<text x="224.5" y="227.8" font-size="11.9" font-weight="bold" text-anchor="middle" transform="rotate(-90 224.5 227.8)" stroke="#000" stroke-width="0.35">(arbitrary units)</text>
<line x1="235.6" y1="185.8" x2="235.6" y2="267.0" stroke="#000" stroke-width="1"/>
<line x1="233.5" y1="186.4" x2="235.6" y2="186.4" stroke="#000" stroke-width="1"/>
<text x="232.8" y="190.04" font-size="9.6" font-weight="normal" text-anchor="end">3</text>
<line x1="233.5" y1="213.2" x2="235.6" y2="213.2" stroke="#000" stroke-width="1"/>
<text x="232.8" y="216.84" font-size="9.6" font-weight="normal" text-anchor="end">2</text>
<line x1="233.5" y1="239.8" x2="235.6" y2="239.8" stroke="#000" stroke-width="1"/>
<text x="232.8" y="243.44" font-size="9.6" font-weight="normal" text-anchor="end">1</text>
<line x1="233.5" y1="266.5" x2="235.6" y2="266.5" stroke="#000" stroke-width="1"/>
<text x="232.8" y="270.14" font-size="9.6" font-weight="normal" text-anchor="end">0</text>
<line x1="235.3" y1="266.5" x2="346.5" y2="266.5" stroke="#000" stroke-width="1"/>
<rect x="240.0" y="228.3" width="10.800000000000011" height="38.19999999999999" fill="#fff" stroke="#000" stroke-width="1"/>
<line x1="245.4" y1="227.8" x2="245.4" y2="204" stroke="#000" stroke-width="1"/>
<line x1="241.624" y1="204" x2="249.17600000000002" y2="204" stroke="#000" stroke-width="1.1"/>
<rect x="258.5" y="238.3" width="10.5" height="28.19999999999999" fill="#979797" stroke="#000" stroke-width="1"/>
<line x1="263.75" y1="237.8" x2="263.75" y2="232" stroke="#000" stroke-width="1"/>
<line x1="260.07" y1="232" x2="267.43" y2="232" stroke="#000" stroke-width="1.1"/>
<rect x="276.8" y="204.0" width="10.699999999999989" height="62.5" fill="#000" stroke="#000" stroke-width="1"/>
<line x1="282.15" y1="203.5" x2="282.15" y2="190.3" stroke="#000" stroke-width="1"/>
<line x1="278.406" y1="190.3" x2="285.89399999999995" y2="190.3" stroke="#000" stroke-width="1.1"/>
<line x1="291" y1="184.2" x2="291" y2="266.5" stroke="#000" stroke-width="1.8" stroke-dasharray="2.6 1.47"/>
<rect x="294.8" y="245.8" width="11.0" height="20.69999999999999" fill="#fff" stroke="#000" stroke-width="1"/>
<line x1="300.3" y1="245.3" x2="300.3" y2="237.3" stroke="#000" stroke-width="1"/>
<line x1="296.46000000000004" y1="237.3" x2="304.14" y2="237.3" stroke="#000" stroke-width="1.1"/>
<rect x="313.5" y="250.0" width="11" height="16.5" fill="#979797" stroke="#000" stroke-width="1"/>
<line x1="319.0" y1="249.5" x2="319.0" y2="244" stroke="#000" stroke-width="1"/>
<line x1="315.16" y1="244" x2="322.84" y2="244" stroke="#000" stroke-width="1.1"/>
<rect x="331.8" y="234.0" width="11.5" height="32.5" fill="#000" stroke="#000" stroke-width="1"/>
<line x1="337.55" y1="233.5" x2="337.55" y2="226" stroke="#000" stroke-width="1"/>
<line x1="333.55" y1="226" x2="341.55" y2="226" stroke="#000" stroke-width="1.1"/>
<line x1="263" y1="187.8" x2="281.3" y2="187.8" stroke="#000" stroke-width="1"/>
<text x="272.95" y="188.4" font-size="7.6" font-weight="bold" text-anchor="middle" letter-spacing="1.2" stroke="#000" stroke-width="0.45">*</text>
<text x="248.6" y="273.1" font-size="11.5" font-weight="bold" text-anchor="end" transform="rotate(-43 248.6 273.1)" stroke="#000" stroke-width="0.2">+/+</text>
<text x="269.4" y="275.5" font-size="11.5" font-weight="bold" text-anchor="end" transform="rotate(-43 269.4 275.5)" stroke="#000" stroke-width="0.2">F/F<tspan dy="-2.5" font-size="8">NT</tspan></text>
<text x="289.0" y="275.0" font-size="11.5" font-weight="bold" text-anchor="end" transform="rotate(-43 289.0 275.0)" stroke="#000" stroke-width="0.2">F/F<tspan dy="-2.5" font-size="8">T</tspan></text>
<text x="305.5" y="273.1" font-size="11.5" font-weight="bold" text-anchor="end" transform="rotate(-43 305.5 273.1)" stroke="#000" stroke-width="0.2">+/+</text>
<text x="325.7" y="275.5" font-size="11.5" font-weight="bold" text-anchor="end" transform="rotate(-43 325.7 275.5)" stroke="#000" stroke-width="0.2">F/F<tspan dy="-2.5" font-size="8">NT</tspan></text>
<text x="344.7" y="275.0" font-size="11.5" font-weight="bold" text-anchor="end" transform="rotate(-43 344.7 275.0)" stroke="#000" stroke-width="0.2">F/F<tspan dy="-2.5" font-size="8">T</tspan></text>
<text x="432.3" y="170" font-size="10.9" font-weight="normal" text-anchor="middle">ProIL18</text>
<line x1="409.3" y1="172.3" x2="458.8" y2="172.3" stroke="#000" stroke-width="1"/>
<text x="488.8" y="170" font-size="10.9" font-weight="normal" text-anchor="middle">IL18</text>
<line x1="464.3" y1="172.3" x2="514.3" y2="172.3" stroke="#000" stroke-width="1"/>
<text x="370.9" y="224" font-size="12.1" font-weight="bold" text-anchor="middle" transform="rotate(-90 370.9 224)" stroke="#000" stroke-width="0.35">IL18/α-Tubulin</text>
<text x="385.9" y="225.3" font-size="11.9" font-weight="bold" text-anchor="middle" transform="rotate(-90 385.9 225.3)" stroke="#000" stroke-width="0.35">(arbitrary units)</text>
<line x1="406.3" y1="184.8" x2="406.3" y2="223.5" stroke="#000" stroke-width="1"/>
<line x1="406.3" y1="229.5" x2="406.3" y2="267" stroke="#000" stroke-width="1"/>
<line x1="404.0" y1="223" x2="407.8" y2="223" stroke="#000" stroke-width="1"/>
<line x1="404.0" y1="229.5" x2="407.8" y2="229.5" stroke="#000" stroke-width="1"/>
<line x1="404.3" y1="185.4" x2="406.3" y2="185.4" stroke="#000" stroke-width="1"/>
<text x="403.8" y="189.24" font-size="9.6" font-weight="normal" text-anchor="end">30</text>
<line x1="404.3" y1="204.1" x2="406.3" y2="204.1" stroke="#000" stroke-width="1"/>
<text x="403.8" y="207.94" font-size="9.6" font-weight="normal" text-anchor="end">20</text>
<line x1="404.3" y1="222.6" x2="406.3" y2="222.6" stroke="#000" stroke-width="1"/>
<text x="403.8" y="226.04" font-size="9.6" font-weight="normal" text-anchor="end">10</text>
<line x1="404.3" y1="229.5" x2="406.3" y2="229.5" stroke="#000" stroke-width="1"/>
<text x="403.8" y="234.24" font-size="9.6" font-weight="normal" text-anchor="end">1.5</text>
<line x1="404.3" y1="241.7" x2="406.3" y2="241.7" stroke="#000" stroke-width="1"/>
<text x="403.8" y="245.54" font-size="9.6" font-weight="normal" text-anchor="end">1</text>
<line x1="404.3" y1="254.1" x2="406.3" y2="254.1" stroke="#000" stroke-width="1"/>
<text x="403.8" y="257.94" font-size="9.6" font-weight="normal" text-anchor="end">0.5</text>
<line x1="404.3" y1="266.3" x2="406.3" y2="266.3" stroke="#000" stroke-width="1"/>
<text x="403.8" y="270.14" font-size="9.6" font-weight="normal" text-anchor="end">0</text>
<line x1="405.8" y1="266.5" x2="514.5" y2="266.5" stroke="#000" stroke-width="1"/>
<rect x="410.0" y="240.0" width="10.800000000000011" height="26.5" fill="#fff" stroke="#000" stroke-width="1"/>
<line x1="415.4" y1="239.5" x2="415.4" y2="235.3" stroke="#000" stroke-width="1"/>
<line x1="411.62399999999997" y1="235.3" x2="419.176" y2="235.3" stroke="#000" stroke-width="1.1"/>
<rect x="428.5" y="244.5" width="11" height="22.0" fill="#979797" stroke="#000" stroke-width="1"/>
<line x1="434.0" y1="244" x2="434.0" y2="242" stroke="#000" stroke-width="1"/>
<line x1="430.16" y1="242" x2="437.84" y2="242" stroke="#000" stroke-width="1.1"/>
<rect x="447.3" y="242.5" width="11.0" height="24.0" fill="#000" stroke="#000" stroke-width="1"/>
<line x1="452.8" y1="242" x2="452.8" y2="239.5" stroke="#000" stroke-width="1"/>
<line x1="448.96000000000004" y1="239.5" x2="456.64" y2="239.5" stroke="#000" stroke-width="1.1"/>
<line x1="461.8" y1="184" x2="461.8" y2="266.5" stroke="#000" stroke-width="1.8" stroke-dasharray="2.6 1.47"/>
<rect x="465.5" y="240.8" width="10.800000000000011" height="25.69999999999999" fill="#fff" stroke="#000" stroke-width="1"/>
<line x1="470.9" y1="240.3" x2="470.9" y2="237" stroke="#000" stroke-width="1"/>
<line x1="467.12399999999997" y1="237" x2="474.676" y2="237" stroke="#000" stroke-width="1.1"/>
<rect x="484.3" y="204.5" width="10.699999999999989" height="62.0" fill="#979797" stroke="#000" stroke-width="1"/>
<line x1="489.65" y1="204" x2="489.65" y2="189" stroke="#000" stroke-width="1"/>
<line x1="485.906" y1="189" x2="493.39399999999995" y2="189" stroke="#000" stroke-width="1.1"/>
<rect x="503.0" y="207.5" width="10.799999999999955" height="59.0" fill="#000" stroke="#000" stroke-width="1"/>
<line x1="508.4" y1="207" x2="508.4" y2="195.3" stroke="#000" stroke-width="1"/>
<line x1="504.62399999999997" y1="195.3" x2="512.1759999999999" y2="195.3" stroke="#000" stroke-width="1.1"/>
<line x1="471.3" y1="179" x2="507.5" y2="179" stroke="#000" stroke-width="1"/>
<text x="490.2" y="179.6" font-size="7.6" font-weight="bold" text-anchor="middle" letter-spacing="1.2" stroke="#000" stroke-width="0.45">*</text>
<line x1="471.3" y1="185.3" x2="489.3" y2="185.3" stroke="#000" stroke-width="1"/>
<text x="481.1" y="185.9" font-size="7.6" font-weight="bold" text-anchor="middle" letter-spacing="1.2" stroke="#000" stroke-width="0.45">*</text>
<text x="420.5" y="272.0" font-size="11.5" font-weight="bold" text-anchor="end" transform="rotate(-43 420.5 272.0)" stroke="#000" stroke-width="0.2">+/+</text>
<text x="439.5" y="274.4" font-size="11.5" font-weight="bold" text-anchor="end" transform="rotate(-43 439.5 274.4)" stroke="#000" stroke-width="0.2">F/F<tspan dy="-2.5" font-size="8">NT</tspan></text>
<text x="458.0" y="273.8" font-size="11.5" font-weight="bold" text-anchor="end" transform="rotate(-43 458.0 273.8)" stroke="#000" stroke-width="0.2">F/F<tspan dy="-2.5" font-size="8">T</tspan></text>
<text x="476.3" y="272.0" font-size="11.5" font-weight="bold" text-anchor="end" transform="rotate(-43 476.3 272.0)" stroke="#000" stroke-width="0.2">+/+</text>
<text x="495.4" y="274.4" font-size="11.5" font-weight="bold" text-anchor="end" transform="rotate(-43 495.4 274.4)" stroke="#000" stroke-width="0.2">F/F<tspan dy="-2.5" font-size="8">NT</tspan></text>
<text x="513.8" y="273.8" font-size="11.5" font-weight="bold" text-anchor="end" transform="rotate(-43 513.8 273.8)" stroke="#000" stroke-width="0.2">F/F<tspan dy="-2.5" font-size="8">T</tspan></text>
<text x="269" y="314.2" font-size="10.9" font-weight="normal" text-anchor="middle">ProIL1β</text>
<line x1="239.5" y1="317.5" x2="290.5" y2="317.5" stroke="#000" stroke-width="1"/>
<text x="324.2" y="314.2" font-size="10.9" font-weight="normal" text-anchor="middle">IL1β</text>
<line x1="295.8" y1="317.5" x2="346.3" y2="317.5" stroke="#000" stroke-width="1"/>
<text x="212.5" y="372.4" font-size="12.1" font-weight="bold" text-anchor="middle" transform="rotate(-90 212.5 372.4)" stroke="#000" stroke-width="0.35">IL1β/α-Tubulin</text>
<text x="226.7" y="373.6" font-size="11.9" font-weight="bold" text-anchor="middle" transform="rotate(-90 226.7 373.6)" stroke="#000" stroke-width="0.35">(arbitrary units)</text>
<line x1="237.4" y1="333.8" x2="237.4" y2="413.0" stroke="#000" stroke-width="1"/>
<line x1="235.4" y1="334.5" x2="237.4" y2="334.5" stroke="#000" stroke-width="1"/>
<text x="234.9" y="338.24" font-size="9.6" font-weight="normal" text-anchor="end">4</text>
<line x1="235.4" y1="353.9" x2="237.4" y2="353.9" stroke="#000" stroke-width="1"/>
<text x="234.9" y="357.64" font-size="9.6" font-weight="normal" text-anchor="end">3</text>
<line x1="235.4" y1="373.4" x2="237.4" y2="373.4" stroke="#000" stroke-width="1"/>
<text x="234.9" y="377.14" font-size="9.6" font-weight="normal" text-anchor="end">2</text>
<line x1="235.4" y1="392.9" x2="237.4" y2="392.9" stroke="#000" stroke-width="1"/>
<text x="234.9" y="396.64" font-size="9.6" font-weight="normal" text-anchor="end">1</text>
<line x1="235.4" y1="412.4" x2="237.4" y2="412.4" stroke="#000" stroke-width="1"/>
<text x="234.9" y="416.14" font-size="9.6" font-weight="normal" text-anchor="end">0</text>
<line x1="237.0" y1="412.5" x2="349.3" y2="412.5" stroke="#000" stroke-width="1"/>
<rect x="241.8" y="393.5" width="10.699999999999989" height="19.0" fill="#fff" stroke="#000" stroke-width="1"/>
<line x1="247.15" y1="393" x2="247.15" y2="387.3" stroke="#000" stroke-width="1"/>
<line x1="243.406" y1="387.3" x2="250.894" y2="387.3" stroke="#000" stroke-width="1.1"/>
<rect x="260.0" y="394.8" width="10.800000000000011" height="17.69999999999999" fill="#979797" stroke="#000" stroke-width="1"/>
<line x1="265.4" y1="394.3" x2="265.4" y2="390.5" stroke="#000" stroke-width="1"/>
<line x1="261.62399999999997" y1="390.5" x2="269.176" y2="390.5" stroke="#000" stroke-width="1.1"/>
<rect x="278.5" y="382.8" width="11" height="29.69999999999999" fill="#000" stroke="#000" stroke-width="1"/>
<line x1="284.0" y1="382.3" x2="284.0" y2="378" stroke="#000" stroke-width="1"/>
<line x1="280.16" y1="378" x2="287.84" y2="378" stroke="#000" stroke-width="1.1"/>
<line x1="293" y1="333" x2="293" y2="412.5" stroke="#000" stroke-width="1.8" stroke-dasharray="2.6 1.47"/>
<rect x="297.3" y="399.8" width="11.0" height="12.699999999999989" fill="#fff" stroke="#000" stroke-width="1"/>
<line x1="302.8" y1="399.3" x2="302.8" y2="394.3" stroke="#000" stroke-width="1"/>
<line x1="298.96000000000004" y1="394.3" x2="306.64" y2="394.3" stroke="#000" stroke-width="1.1"/>
<rect x="316.0" y="384.8" width="11.0" height="27.69999999999999" fill="#979797" stroke="#000" stroke-width="1"/>
<line x1="321.5" y1="384.3" x2="321.5" y2="377.5" stroke="#000" stroke-width="1"/>
<line x1="317.66" y1="377.5" x2="325.34" y2="377.5" stroke="#000" stroke-width="1.1"/>
<rect x="334.8" y="356.5" width="11.0" height="56.0" fill="#000" stroke="#000" stroke-width="1"/>
<line x1="340.3" y1="356" x2="340.3" y2="350.5" stroke="#000" stroke-width="1"/>
<line x1="336.46000000000004" y1="350.5" x2="344.14" y2="350.5" stroke="#000" stroke-width="1.1"/>
<line x1="265.5" y1="375.5" x2="283.8" y2="375.5" stroke="#000" stroke-width="1"/>
<text x="275.45" y="376.1" font-size="7.6" font-weight="bold" text-anchor="middle" letter-spacing="1.2" stroke="#000" stroke-width="0.45">*</text>
<line x1="302.5" y1="340" x2="340" y2="340" stroke="#000" stroke-width="1"/>
<text x="322.05" y="340.6" font-size="7.6" font-weight="bold" text-anchor="middle" letter-spacing="1.2" stroke="#000" stroke-width="0.45">***</text>
<line x1="321.3" y1="348" x2="340" y2="348" stroke="#000" stroke-width="1"/>
<text x="331.45" y="348.6" font-size="7.6" font-weight="bold" text-anchor="middle" letter-spacing="1.2" stroke="#000" stroke-width="0.45">**</text>
<text x="250.6" y="419.1" font-size="11.5" font-weight="bold" text-anchor="end" transform="rotate(-43 250.6 419.1)" stroke="#000" stroke-width="0.2">+/+</text>
<text x="271.4" y="421.5" font-size="11.5" font-weight="bold" text-anchor="end" transform="rotate(-43 271.4 421.5)" stroke="#000" stroke-width="0.2">F/F<tspan dy="-2.5" font-size="8">NT</tspan></text>
<text x="291.0" y="421.0" font-size="11.5" font-weight="bold" text-anchor="end" transform="rotate(-43 291.0 421.0)" stroke="#000" stroke-width="0.2">F/F<tspan dy="-2.5" font-size="8">T</tspan></text>
<text x="307.5" y="419.1" font-size="11.5" font-weight="bold" text-anchor="end" transform="rotate(-43 307.5 419.1)" stroke="#000" stroke-width="0.2">+/+</text>
<text x="327.7" y="421.5" font-size="11.5" font-weight="bold" text-anchor="end" transform="rotate(-43 327.7 421.5)" stroke="#000" stroke-width="0.2">F/F<tspan dy="-2.5" font-size="8">NT</tspan></text>
<text x="346.7" y="421.0" font-size="11.5" font-weight="bold" text-anchor="end" transform="rotate(-43 346.7 421.0)" stroke="#000" stroke-width="0.2">F/F<tspan dy="-2.5" font-size="8">T</tspan></text>
<text x="433.4" y="315" font-size="10.9" font-weight="normal" text-anchor="middle">ProIL18</text>
<line x1="408.8" y1="317.5" x2="462.5" y2="317.5" stroke="#000" stroke-width="1"/>
<text x="490.6" y="315" font-size="10.9" font-weight="normal" text-anchor="middle">IL18</text>
<line x1="466.3" y1="317.5" x2="517.5" y2="317.5" stroke="#000" stroke-width="1"/>
<text x="375" y="369.8" font-size="12.1" font-weight="bold" text-anchor="middle" transform="rotate(-90 375 369.8)" stroke="#000" stroke-width="0.35">IL18/α-Tubulin</text>
<text x="389.3" y="371.3" font-size="11.9" font-weight="bold" text-anchor="middle" transform="rotate(-90 389.3 371.3)" stroke="#000" stroke-width="0.35">(arbitrary units)</text>
<line x1="409.3" y1="332" x2="409.3" y2="369.3" stroke="#000" stroke-width="1"/>
<line x1="409.3" y1="376" x2="409.3" y2="413" stroke="#000" stroke-width="1"/>
<line x1="407.0" y1="369" x2="410.8" y2="369" stroke="#000" stroke-width="1"/>
<line x1="407.0" y1="376" x2="410.8" y2="376" stroke="#000" stroke-width="1"/>
<line x1="407.3" y1="332.3" x2="409.3" y2="332.3" stroke="#000" stroke-width="1"/>
<text x="406.8" y="336.14" font-size="9.6" font-weight="normal" text-anchor="end">40</text>
<line x1="407.3" y1="344.8" x2="409.3" y2="344.8" stroke="#000" stroke-width="1"/>
<text x="406.8" y="348.64" font-size="9.6" font-weight="normal" text-anchor="end">30</text>
<line x1="407.3" y1="356.9" x2="409.3" y2="356.9" stroke="#000" stroke-width="1"/>
<text x="406.8" y="360.74" font-size="9.6" font-weight="normal" text-anchor="end">20</text>
<line x1="407.3" y1="368.9" x2="409.3" y2="368.9" stroke="#000" stroke-width="1"/>
<text x="406.8" y="372.34" font-size="9.6" font-weight="normal" text-anchor="end">10</text>
<line x1="407.3" y1="376" x2="409.3" y2="376" stroke="#000" stroke-width="1"/>
<text x="406.8" y="380.64" font-size="9.6" font-weight="normal" text-anchor="end">1.5</text>
<line x1="407.3" y1="388.3" x2="409.3" y2="388.3" stroke="#000" stroke-width="1"/>
<text x="406.8" y="392.14" font-size="9.6" font-weight="normal" text-anchor="end">1</text>
<line x1="407.3" y1="400.4" x2="409.3" y2="400.4" stroke="#000" stroke-width="1"/>
<text x="406.8" y="404.24" font-size="9.6" font-weight="normal" text-anchor="end">0.5</text>
<line x1="407.3" y1="412.4" x2="409.3" y2="412.4" stroke="#000" stroke-width="1"/>
<text x="406.8" y="416.24" font-size="9.6" font-weight="normal" text-anchor="end">0</text>
<line x1="408.8" y1="412.5" x2="517.5" y2="412.5" stroke="#000" stroke-width="1"/>
<rect x="413.0" y="389.3" width="11.0" height="23.19999999999999" fill="#fff" stroke="#000" stroke-width="1"/>
<line x1="418.5" y1="388.8" x2="418.5" y2="385.5" stroke="#000" stroke-width="1"/>
<line x1="414.66" y1="385.5" x2="422.34" y2="385.5" stroke="#000" stroke-width="1.1"/>
<rect x="431.8" y="391.0" width="10.699999999999989" height="21.5" fill="#979797" stroke="#000" stroke-width="1"/>
<line x1="437.15" y1="390.5" x2="437.15" y2="386.8" stroke="#000" stroke-width="1"/>
<line x1="433.406" y1="386.8" x2="440.89399999999995" y2="386.8" stroke="#000" stroke-width="1.1"/>
<rect x="450.0" y="390.3" width="11.300000000000011" height="22.19999999999999" fill="#000" stroke="#000" stroke-width="1"/>
<line x1="455.65" y1="389.8" x2="455.65" y2="386.3" stroke="#000" stroke-width="1"/>
<line x1="451.714" y1="386.3" x2="459.58599999999996" y2="386.3" stroke="#000" stroke-width="1.1"/>
<line x1="464.5" y1="330.5" x2="464.5" y2="412.5" stroke="#000" stroke-width="1.8" stroke-dasharray="2.6 1.47"/>
<rect x="468.5" y="388.0" width="11" height="24.5" fill="#fff" stroke="#000" stroke-width="1"/>
<line x1="474.0" y1="387.5" x2="474.0" y2="379.3" stroke="#000" stroke-width="1"/>
<line x1="470.16" y1="379.3" x2="477.84" y2="379.3" stroke="#000" stroke-width="1.1"/>
<rect x="487.3" y="348.5" width="11.0" height="64.0" fill="#979797" stroke="#000" stroke-width="1"/>
<line x1="492.8" y1="348" x2="492.8" y2="334.3" stroke="#000" stroke-width="1"/>
<line x1="488.96000000000004" y1="334.3" x2="496.64" y2="334.3" stroke="#000" stroke-width="1.1"/>
<rect x="505.5" y="358.5" width="11" height="54.0" fill="#000" stroke="#000" stroke-width="1"/>
<line x1="511.0" y1="358" x2="511.0" y2="350.5" stroke="#000" stroke-width="1"/>
<line x1="507.16" y1="350.5" x2="514.84" y2="350.5" stroke="#000" stroke-width="1.1"/>
<line x1="476.3" y1="324.3" x2="513" y2="324.3" stroke="#000" stroke-width="1"/>
<text x="495.45" y="324.90000000000003" font-size="7.6" font-weight="bold" text-anchor="middle" letter-spacing="1.2" stroke="#000" stroke-width="0.45">*</text>
<line x1="472.5" y1="331.3" x2="492.5" y2="331.3" stroke="#000" stroke-width="1"/>
<text x="483.3" y="331.90000000000003" font-size="7.6" font-weight="bold" text-anchor="middle" letter-spacing="1.2" stroke="#000" stroke-width="0.45">*</text>
<text x="420.6" y="419.1" font-size="11.5" font-weight="bold" text-anchor="end" transform="rotate(-43 420.6 419.1)" stroke="#000" stroke-width="0.2">+/+</text>
<text x="441.4" y="421.5" font-size="11.5" font-weight="bold" text-anchor="end" transform="rotate(-43 441.4 421.5)" stroke="#000" stroke-width="0.2">F/F<tspan dy="-2.5" font-size="8">NT</tspan></text>
<text x="461.0" y="421.0" font-size="11.5" font-weight="bold" text-anchor="end" transform="rotate(-43 461.0 421.0)" stroke="#000" stroke-width="0.2">F/F<tspan dy="-2.5" font-size="8">T</tspan></text>
<text x="478.1" y="419.1" font-size="11.5" font-weight="bold" text-anchor="end" transform="rotate(-43 478.1 419.1)" stroke="#000" stroke-width="0.2">+/+</text>
<text x="497.7" y="421.5" font-size="11.5" font-weight="bold" text-anchor="end" transform="rotate(-43 497.7 421.5)" stroke="#000" stroke-width="0.2">F/F<tspan dy="-2.5" font-size="8">NT</tspan></text>
<text x="516.7" y="421.0" font-size="11.5" font-weight="bold" text-anchor="end" transform="rotate(-43 516.7 421.0)" stroke="#000" stroke-width="0.2">F/F<tspan dy="-2.5" font-size="8">T</tspan></text>
<text x="244.6" y="462" font-size="10.7" font-weight="normal" text-anchor="middle">ProIL1β</text>
<line x1="224.7" y1="464.5" x2="268.3" y2="464.5" stroke="#000" stroke-width="1"/>
<text x="293.8" y="462" font-size="10.7" font-weight="normal" text-anchor="middle">IL1β</text>
<line x1="273.4" y1="464.5" x2="315.5" y2="464.5" stroke="#000" stroke-width="1"/>
<text x="188.7" y="509.5" font-size="12.1" font-weight="bold" text-anchor="middle" transform="rotate(-90 188.7 509.5)" stroke="#000" stroke-width="0.35">IL1β/α-Tubulin</text>
<text x="203.2" y="510.9" font-size="12.15" font-weight="bold" text-anchor="middle" transform="rotate(-90 203.2 510.9)" stroke="#000" stroke-width="0.35">(arbitrary units)</text>
<line x1="223.3" y1="469.0" x2="223.3" y2="552.3" stroke="#000" stroke-width="1"/>
<line x1="221.3" y1="469.5" x2="223.3" y2="469.5" stroke="#000" stroke-width="1"/>
<text x="220.5" y="473.74" font-size="9.6" font-weight="normal" text-anchor="end">2</text>
<line x1="221.3" y1="490.2" x2="223.3" y2="490.2" stroke="#000" stroke-width="1"/>
<text x="220.5" y="494.44" font-size="9.6" font-weight="normal" text-anchor="end">1.5</text>
<line x1="221.3" y1="510.8" x2="223.3" y2="510.8" stroke="#000" stroke-width="1"/>
<text x="220.5" y="515.04" font-size="9.6" font-weight="normal" text-anchor="end">1</text>
<line x1="221.3" y1="531.4" x2="223.3" y2="531.4" stroke="#000" stroke-width="1"/>
<text x="220.5" y="535.64" font-size="9.6" font-weight="normal" text-anchor="end">0.5</text>
<line x1="221.3" y1="551.8" x2="223.3" y2="551.8" stroke="#000" stroke-width="1"/>
<text x="220.5" y="556.04" font-size="9.6" font-weight="normal" text-anchor="end">0</text>
<line x1="222.8" y1="552" x2="323.8" y2="552" stroke="#000" stroke-width="1"/>
<rect x="228.5" y="504.1" width="16" height="47.89999999999998" fill="#fff" stroke="#000" stroke-width="1"/>
<line x1="236.5" y1="503.6" x2="236.5" y2="497.2" stroke="#000" stroke-width="1"/>
<line x1="231.06" y1="497.2" x2="241.94" y2="497.2" stroke="#000" stroke-width="1.1"/>
<rect x="253.7" y="514.7" width="15.800000000000011" height="37.299999999999955" fill="#000" stroke="#000" stroke-width="1"/>
<line x1="261.6" y1="514.2" x2="261.6" y2="504" stroke="#000" stroke-width="1"/>
<line x1="256.22400000000005" y1="504" x2="266.976" y2="504" stroke="#000" stroke-width="1.1"/>
<line x1="273.3" y1="467.3" x2="273.3" y2="552" stroke="#000" stroke-width="1.4" stroke-dasharray="3 1.1"/>
<rect x="278.6" y="512.0" width="15.899999999999977" height="40.0" fill="#fff" stroke="#000" stroke-width="1"/>
<line x1="286.55" y1="511.5" x2="286.55" y2="501.8" stroke="#000" stroke-width="1"/>
<line x1="281.142" y1="501.8" x2="291.958" y2="501.8" stroke="#000" stroke-width="1.1"/>
<rect x="303.7" y="496.5" width="15.699999999999989" height="55.5" fill="#000" stroke="#000" stroke-width="1"/>
<line x1="311.54999999999995" y1="496" x2="311.54999999999995" y2="487.5" stroke="#000" stroke-width="1"/>
<line x1="306.20599999999996" y1="487.5" x2="316.89399999999995" y2="487.5" stroke="#000" stroke-width="1.1"/>
<text x="236.3" y="562.8" font-size="11.9" font-weight="bold" text-anchor="middle">F/F</text>
<text x="260.8" y="562.8" font-size="11.9" font-weight="bold" text-anchor="middle">F/F:</text>
<text x="260.5" y="577.0999999999999" font-size="11.9" font-weight="bold" text-anchor="middle">Asc<tspan dy="-3.2" font-size="9.2" font-style="italic">-/-</tspan></text>
<text x="286" y="562.8" font-size="11.9" font-weight="bold" text-anchor="middle">F/F</text>
<text x="311.5" y="562.8" font-size="11.9" font-weight="bold" text-anchor="middle">F/F:</text>
<text x="311.2" y="577.0999999999999" font-size="11.9" font-weight="bold" text-anchor="middle">Asc<tspan dy="-3.2" font-size="9.2" font-style="italic">-/-</tspan></text>
<text x="409.2" y="462.5" font-size="10.7" font-weight="normal" text-anchor="middle">ProIL18</text>
<line x1="389.3" y1="464.5" x2="432.4" y2="464.5" stroke="#000" stroke-width="1"/>
<text x="459" y="462.5" font-size="10.7" font-weight="normal" text-anchor="middle">IL18</text>
<line x1="442" y1="464.5" x2="483.6" y2="464.5" stroke="#000" stroke-width="1"/>
<text x="350.6" y="509.5" font-size="12.1" font-weight="bold" text-anchor="middle" transform="rotate(-90 350.6 509.5)" stroke="#000" stroke-width="0.35">IL18/α-Tubulin</text>
<text x="365.3" y="510.5" font-size="12.15" font-weight="bold" text-anchor="middle" transform="rotate(-90 365.3 510.5)" stroke="#000" stroke-width="0.35">(arbitrary units)</text>
<line x1="387.4" y1="468.1" x2="387.4" y2="553.1" stroke="#000" stroke-width="1"/>
<line x1="385.4" y1="468.6" x2="387.4" y2="468.6" stroke="#000" stroke-width="1"/>
<text x="384.4" y="472.64" font-size="9.6" font-weight="normal" text-anchor="end">1.5</text>
<line x1="385.4" y1="496.6" x2="387.4" y2="496.6" stroke="#000" stroke-width="1"/>
<text x="384.4" y="500.64" font-size="9.6" font-weight="normal" text-anchor="end">1</text>
<line x1="385.4" y1="524.7" x2="387.4" y2="524.7" stroke="#000" stroke-width="1"/>
<text x="384.4" y="528.74" font-size="9.6" font-weight="normal" text-anchor="end">0.5</text>
<line x1="385.4" y1="552.6" x2="387.4" y2="552.6" stroke="#000" stroke-width="1"/>
<text x="384.4" y="556.64" font-size="9.6" font-weight="normal" text-anchor="end">0</text>
<line x1="387.0" y1="552.8" x2="491.3" y2="552.8" stroke="#000" stroke-width="1"/>
<rect x="393.0" y="495.8" width="15.800000000000011" height="56.99999999999994" fill="#fff" stroke="#000" stroke-width="1"/>
<line x1="400.9" y1="495.3" x2="400.9" y2="488.5" stroke="#000" stroke-width="1"/>
<line x1="395.524" y1="488.5" x2="406.27599999999995" y2="488.5" stroke="#000" stroke-width="1.1"/>
<rect x="418.5" y="501.5" width="16" height="51.299999999999955" fill="#000" stroke="#000" stroke-width="1"/>
<line x1="426.5" y1="501" x2="426.5" y2="495.8" stroke="#000" stroke-width="1"/>
<line x1="421.06" y1="495.8" x2="431.94" y2="495.8" stroke="#000" stroke-width="1.1"/>
<line x1="439.4" y1="467.5" x2="439.4" y2="552.8" stroke="#000" stroke-width="1.4" stroke-dasharray="3 1.1"/>
<rect x="444.8" y="508.3" width="16.0" height="44.49999999999994" fill="#fff" stroke="#000" stroke-width="1"/>
<line x1="452.8" y1="507.8" x2="452.8" y2="492" stroke="#000" stroke-width="1"/>
<line x1="447.36" y1="492" x2="458.24" y2="492" stroke="#000" stroke-width="1.1"/>
<rect x="470.5" y="545.8" width="16" height="7.0" fill="#000" stroke="#000" stroke-width="1"/>
<line x1="478.5" y1="545.3" x2="478.5" y2="543.3" stroke="#000" stroke-width="1"/>
<line x1="473.06" y1="543.3" x2="483.94" y2="543.3" stroke="#000" stroke-width="1.1"/>
<line x1="446.3" y1="489.5" x2="468.8" y2="489.5" stroke="#000" stroke-width="1"/>
<text x="458.35" y="490.1" font-size="7.6" font-weight="bold" text-anchor="middle" letter-spacing="1.2" stroke="#000" stroke-width="0.45">*</text>
<text x="399.8" y="563" font-size="11.9" font-weight="bold" text-anchor="middle">F/F</text>
<text x="425.8" y="563" font-size="11.9" font-weight="bold" text-anchor="middle">F/F:</text>
<text x="425.5" y="577.3" font-size="11.9" font-weight="bold" text-anchor="middle">Asc<tspan dy="-3.2" font-size="9.2" font-style="italic">-/-</tspan></text>
<text x="451" y="563" font-size="11.9" font-weight="bold" text-anchor="middle">F/F</text>
<text x="477.5" y="563" font-size="11.9" font-weight="bold" text-anchor="middle">F/F:</text>
<text x="477.2" y="577.3" font-size="11.9" font-weight="bold" text-anchor="middle">Asc<tspan dy="-3.2" font-size="9.2" font-style="italic">-/-</tspan></text>
</svg>
</body></html>
